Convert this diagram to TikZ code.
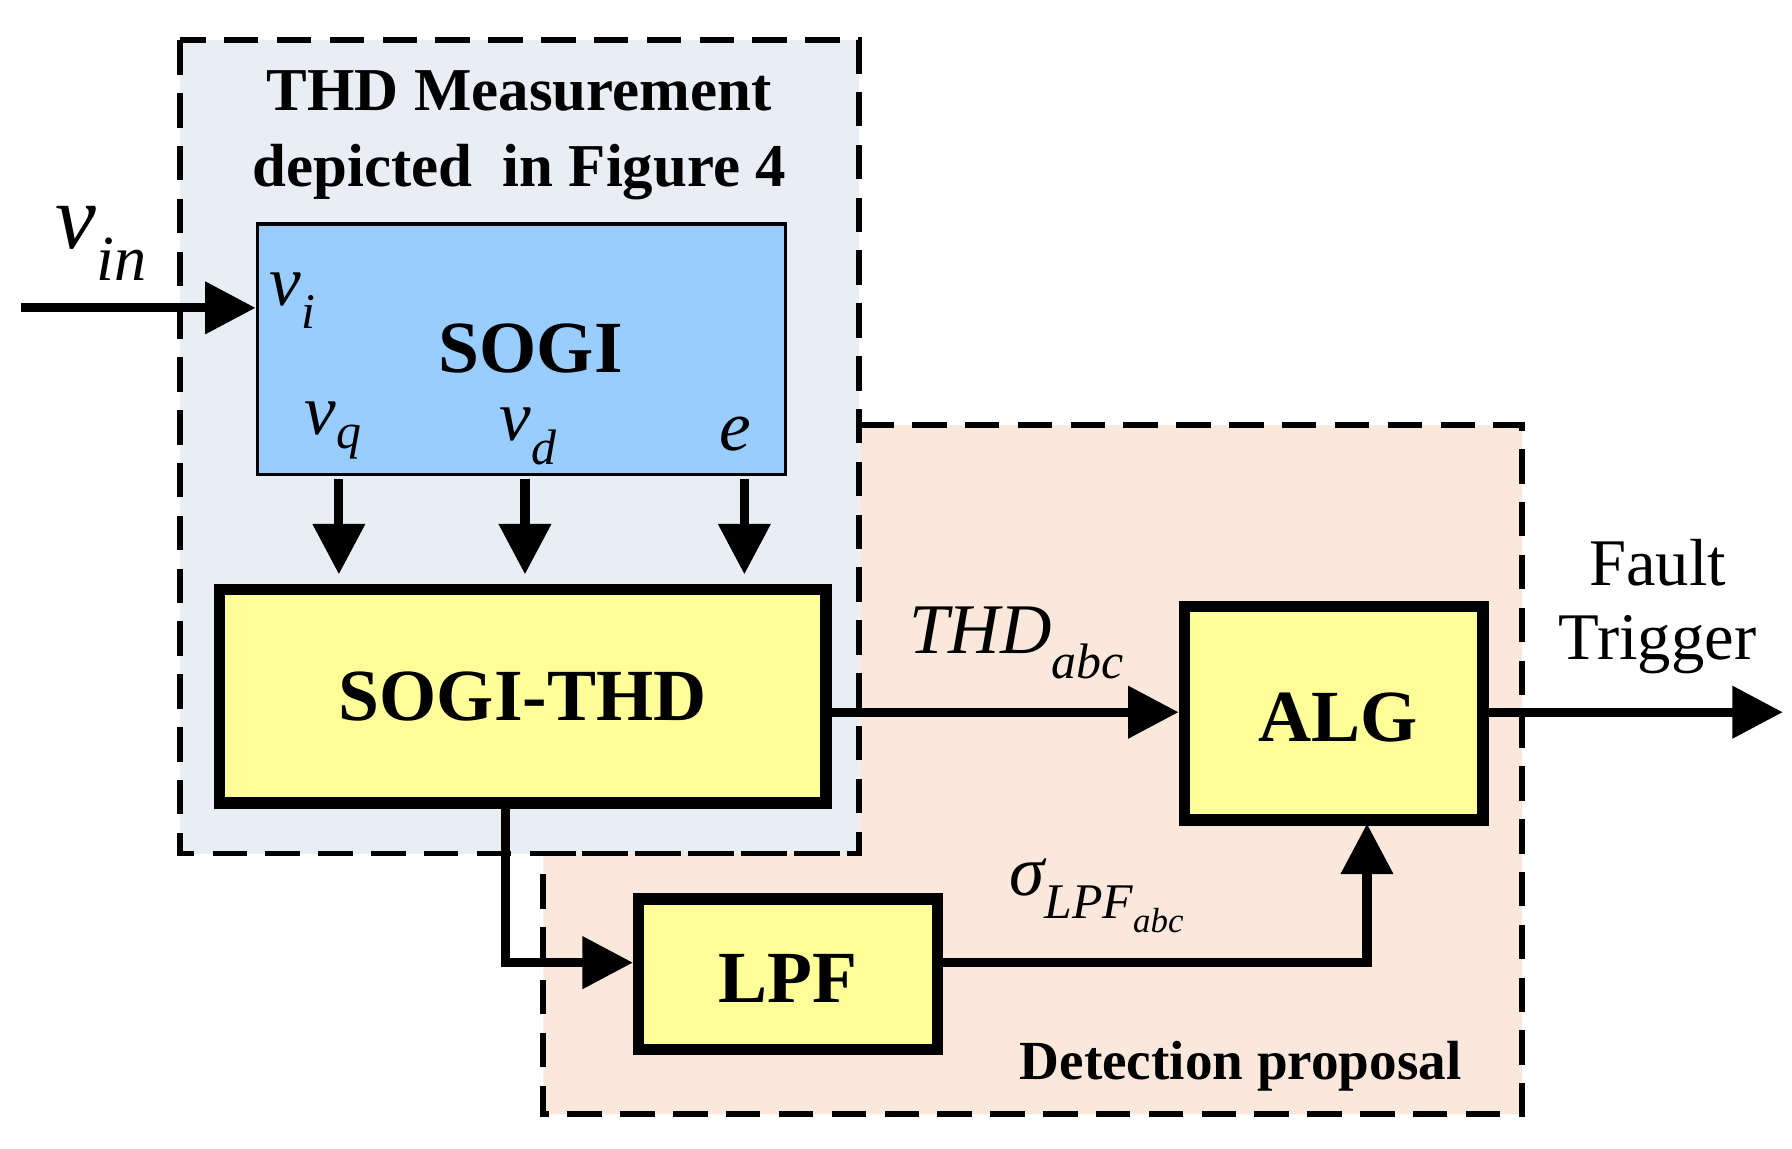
\documentclass[tikz,border=0pt]{standalone}
\usepackage{fontspec}
\setmainfont{Liberation Serif}
\usetikzlibrary{arrows.meta}
\definecolor{bluebg}{RGB}{233,238,245}
\definecolor{orbg}{RGB}{250,232,220}
\definecolor{sogi}{RGB}{153,204,255}
\definecolor{yel}{RGB}{255,255,153}
\newcommand{\mysub}[1]{\textsubscript{\itshape #1}}
\begin{document}
\begin{tikzpicture}[x=1pt,y=-1pt,
  region/.style={draw=black,line width=5pt,dash pattern=on 30pt off 16pt},
  blk/.style={draw=black,line width=10pt,fill=yel,inner sep=0pt},
  arr/.style={line width=8pt,-{Triangle[length=44pt,width=44pt]}},
  big/.style={font=\fontsize{64}{70}\selectfont\bfseries,inner sep=0pt},
  lab/.style={font=\fontsize{58}{64}\selectfont},
  var/.style={font=\fontsize{62}{62}\selectfont\itshape,inner sep=0pt}]
\useasboundingbox (0,0) rectangle (1560,1000);
\fill[bluebg] (157,35) rectangle (748,743);
\fill[orbg] (748,370) -- (1325,370) -- (1325,970) -- (473,970) -- (473,743) -- (748,743) -- cycle;
\draw[region] (157,35) rectangle (748,743);
\draw[region] (748,370) -- (1325,370) -- (1325,970) -- (473,970) -- (473,743) -- (748,743);
\node[font=\fontsize{53}{66}\selectfont\bfseries,align=center] (title) at (452,118) {THD Measurement\\depicted\ \ in Figure 4};
\node[draw=black,line width=3pt,fill=sogi,minimum width=460pt,minimum height=218pt,inner sep=0pt] (sogi) at (454,304) {};
\node[big] (sogit) at (462,303) {SOGI};
\node[var] (vi) at (255,262) {v\mysub{i}};
\node[var] (vq) at (290,375) {v\mysub{q}};
\node[var] (vd) at (460,380) {v\mysub{d}};
\node[var] (e) at (640,378) {e};
\node[blk,minimum width=528pt,minimum height=186pt] (thd) at (455,606) {};
\node[big] at (455,606) {SOGI-THD};
\node[blk,minimum width=260pt,minimum height=186pt] (alg) at (1161,621) {};
\node[big] at (1165,625) {ALG};
\node[blk,minimum width=260pt,minimum height=131pt] (lpf) at (686,848) {};
\node[big] at (686,852) {LPF};
\node[font=\fontsize{48}{54}\selectfont\bfseries] (det) at (1080,928) {Detection proposal};
\node[font=\fontsize{80}{80}\selectfont\itshape] (vin) at (88,212) {v\textsubscript{\itshape in}};
\node[lab,align=center] (ft) at (1443,528) {Fault\\Trigger};
\node[var] (thdl) at (885,560) {THD\mysub{abc}};
\node[var] (sig) at (955,780) {σ\textsubscript{\itshape LPF\textsubscript{\itshape abc}}};
\coordinate (in0) at (18,268);
\coordinate (out1) at (1552,620);
\draw[arr] (in0) -- (sogi.west |- in0);
\foreach \x in {295,457,648} \draw[arr] (\x,417) -- (\x,500);
\draw[arr] (thd.east |- 0,620) -- (alg.west |- 0,620);
\draw[arr] (alg.east |- 0,620) -- (out1);
\draw[arr] (440,700) -- (440,838) -- (lpf.west |- 0,838);
\draw[arr] (lpf.east |- 0,838) -- (1190,838) -- (1190,717);
\end{tikzpicture}
\end{document}
